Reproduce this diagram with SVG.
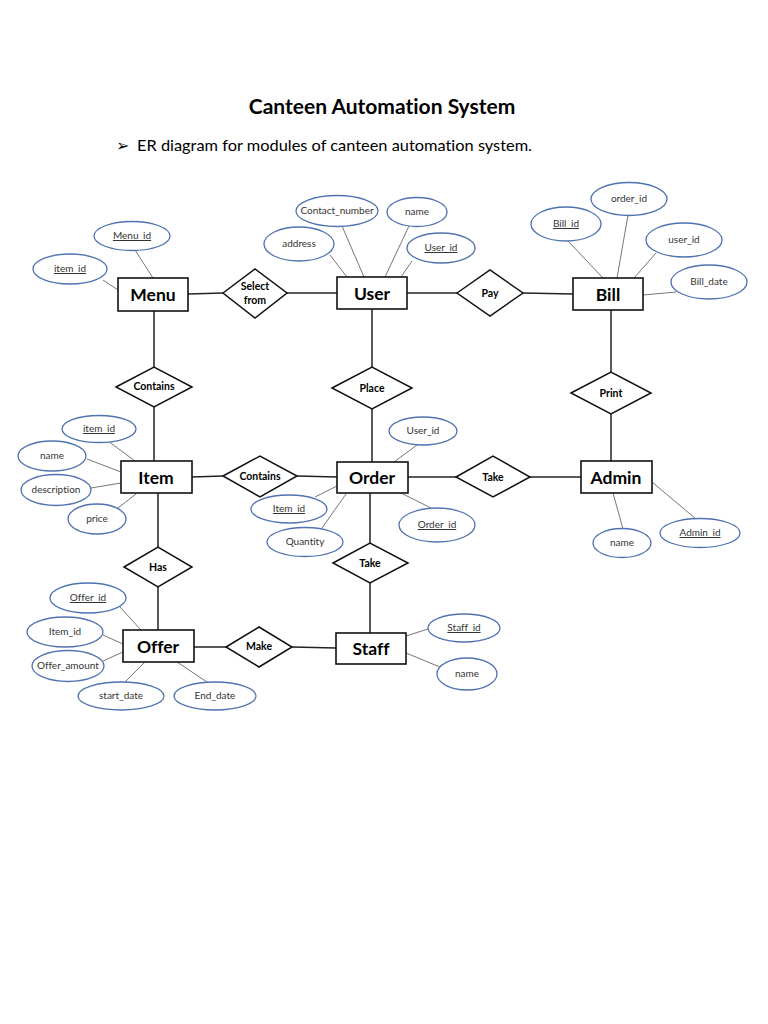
<svg xmlns="http://www.w3.org/2000/svg" width="768" height="1024" viewBox="0 0 768 1024">
<style>
text{font-variant-ligatures:none}
.ent rect{fill:#fff;stroke:#111;stroke-width:1.6}
.ent text{font-family:Lato,"Open Sans",sans-serif;font-weight:bold;font-size:17.5px;fill:#000;text-anchor:middle}
.rel polygon{fill:#fff;stroke:#111;stroke-width:1.5}
.rel text{font-family:Lato,"Open Sans",sans-serif;font-weight:bold;font-size:10.5px;fill:#000;text-anchor:middle}
.att ellipse{fill:#fff;stroke:#4f72b0;stroke-width:1.3}
.att text{font-family:Lato,"Open Sans",sans-serif;font-size:10px;fill:#333;text-anchor:middle}
.key{text-decoration:underline}
#connectors line{stroke:#222;stroke-width:1.5}
#attr-links line{stroke:#666;stroke-width:0.9}
</style>
<rect width="768" height="1024" fill="#fff"/>
<text x="382" y="114" font-family="Lato,'Open Sans',sans-serif" font-weight="bold" font-size="21" text-anchor="middle" fill="#000">Canteen Automation System</text>
<text x="116" y="151" font-family="'DejaVu Sans',sans-serif" font-size="16" fill="#000">➢</text>
<text x="137" y="151" font-family="Lato,'Open Sans',sans-serif" font-size="16" textLength="395" lengthAdjust="spacingAndGlyphs" fill="#000">ER diagram for modules of canteen automation system.</text>

<g id="connectors">
<line x1="188" y1="294" x2="223" y2="293"/>
<line x1="287" y1="293" x2="337" y2="293"/>
<line x1="407" y1="293" x2="457" y2="293"/>
<line x1="523" y1="293" x2="573" y2="294"/>
<line x1="154" y1="311" x2="154" y2="367"/>
<line x1="154" y1="407" x2="154" y2="461"/>
<line x1="372" y1="309" x2="372" y2="367"/>
<line x1="372" y1="409" x2="372" y2="462"/>
<line x1="611" y1="310" x2="611" y2="372"/>
<line x1="611" y1="414" x2="611" y2="461"/>
<line x1="192" y1="477" x2="223" y2="476"/>
<line x1="297" y1="476" x2="337" y2="477"/>
<line x1="408" y1="477" x2="456" y2="477"/>
<line x1="530" y1="477" x2="581" y2="477"/>
<line x1="158" y1="493" x2="158" y2="547"/>
<line x1="158" y1="587" x2="158" y2="630"/>
<line x1="370" y1="493" x2="370" y2="543"/>
<line x1="370" y1="583" x2="370" y2="633"/>
<line x1="194" y1="647" x2="226" y2="647"/>
<line x1="292" y1="647" x2="336" y2="648"/>
</g>

<g id="attr-links">
<line x1="135" y1="250" x2="153" y2="278"/>
<line x1="103" y1="280" x2="118" y2="290"/>
<line x1="330" y1="255" x2="347" y2="277"/>
<line x1="342" y1="226" x2="364" y2="277"/>
<line x1="409" y1="226" x2="385" y2="277"/>
<line x1="412" y1="261" x2="401" y2="277"/>
<line x1="568" y1="241" x2="603" y2="278"/>
<line x1="628" y1="215" x2="617" y2="278"/>
<line x1="656" y1="253" x2="634" y2="278"/>
<line x1="676" y1="292" x2="643" y2="295"/>
<line x1="108" y1="441" x2="135" y2="461"/>
<line x1="87" y1="459" x2="121" y2="472"/>
<line x1="91" y1="488" x2="121" y2="483"/>
<line x1="118" y1="508" x2="136" y2="494"/>
<line x1="315" y1="497" x2="337" y2="486"/>
<line x1="322" y1="528" x2="346" y2="494"/>
<line x1="417" y1="445" x2="394" y2="462"/>
<line x1="431" y1="508" x2="401" y2="493"/>
<line x1="623" y1="529" x2="613" y2="493"/>
<line x1="696" y1="519" x2="652" y2="482"/>
<line x1="120" y1="607" x2="141" y2="630"/>
<line x1="103" y1="635" x2="123" y2="644"/>
<line x1="103" y1="661" x2="123" y2="652"/>
<line x1="125" y1="682" x2="145" y2="662"/>
<line x1="207" y1="682" x2="177" y2="662"/>
<line x1="428" y1="629" x2="406" y2="636"/>
<line x1="440" y1="667" x2="406" y2="653"/>
</g>

<g id="menu" class="ent"><rect x="118" y="278" width="70" height="33"/><text x="153" y="301">Menu</text></g>
<g id="user" class="ent"><rect x="337" y="277" width="70" height="32"/><text x="372" y="300">User</text></g>
<g id="bill" class="ent"><rect x="573" y="278" width="70" height="32"/><text x="608" y="301">Bill</text></g>
<g id="item" class="ent"><rect x="121" y="461" width="71" height="32"/><text x="156" y="484">Item</text></g>
<g id="order" class="ent"><rect x="337" y="462" width="71" height="31"/><text x="372" y="484">Order</text></g>
<g id="admin" class="ent"><rect x="581" y="461" width="71" height="32"/><text x="616" y="484">Admin</text></g>
<g id="offer" class="ent"><rect x="123" y="630" width="71" height="32"/><text x="158" y="653">Offer</text></g>
<g id="staff" class="ent"><rect x="336" y="633" width="70" height="31"/><text x="371" y="655">Staff</text></g>

<g id="select-from" class="rel"><polygon points="223,293 255,269 287,293 255,318"/><text x="255" y="290">Select</text><text x="255" y="304">from</text></g>
<g id="pay" class="rel"><polygon points="457,293 490,270 523,293 490,316"/><text x="490" y="297">Pay</text></g>
<g id="contains-menu-item" class="rel"><polygon points="116,387 154,367 192,387 154,407"/><text x="154" y="390">Contains</text></g>
<g id="place" class="rel"><polygon points="332,388 372,367 412,388 372,409"/><text x="372" y="392">Place</text></g>
<g id="print" class="rel"><polygon points="571,393 611,372 651,393 611,414"/><text x="611" y="397">Print</text></g>
<g id="contains-item-order" class="rel"><polygon points="223,476 260,456 297,476 260,497"/><text x="260" y="480">Contains</text></g>
<g id="take-order-admin" class="rel"><polygon points="456,477 493,456 530,477 493,497"/><text x="493" y="481">Take</text></g>
<g id="has" class="rel"><polygon points="124,567 158,547 192,567 158,587"/><text x="158" y="571">Has</text></g>
<g id="take-order-staff" class="rel"><polygon points="333,563 370,543 408,563 370,583"/><text x="370" y="567">Take</text></g>
<g id="make" class="rel"><polygon points="226,647 259,627 292,647 259,667"/><text x="259" y="650">Make</text></g>

<g id="menu-menu_id" class="att"><ellipse cx="132" cy="236" rx="38" ry="14.5"/><text class="key" x="132" y="239">Menu_id</text></g>
<g id="menu-item_id" class="att"><ellipse cx="70" cy="269" rx="37" ry="15"/><text class="key" x="70" y="272">item_id</text></g>
<g id="user-contact_number" class="att"><ellipse cx="337" cy="211" rx="41" ry="15.5"/><text x="337" y="214">Contact_number</text></g>
<g id="user-address" class="att"><ellipse cx="299" cy="244" rx="35" ry="17"/><text x="299" y="247">address</text></g>
<g id="user-name" class="att"><ellipse cx="417" cy="212" rx="30" ry="14.5"/><text x="417" y="215">name</text></g>
<g id="user-user_id" class="att"><ellipse cx="441" cy="248" rx="34" ry="15"/><text class="key" x="441" y="251">User_id</text></g>
<g id="bill-order_id" class="att"><ellipse cx="629" cy="199" rx="38" ry="16.5"/><text x="629" y="202">order_id</text></g>
<g id="bill-bill_id" class="att"><ellipse cx="566" cy="224" rx="35" ry="17"/><text class="key" x="566" y="227">Bill_id</text></g>
<g id="bill-user_id" class="att"><ellipse cx="684" cy="240" rx="38" ry="17"/><text x="684" y="243">user_id</text></g>
<g id="bill-bill_date" class="att"><ellipse cx="709" cy="282" rx="38" ry="17"/><text x="709" y="285">Bill_date</text></g>
<g id="item-item_id" class="att"><ellipse cx="99" cy="429" rx="37" ry="13.5"/><text class="key" x="99" y="432">item_id</text></g>
<g id="item-name" class="att"><ellipse cx="52" cy="456" rx="34" ry="15"/><text x="52" y="459">name</text></g>
<g id="item-description" class="att"><ellipse cx="56" cy="490" rx="35" ry="15.5"/><text x="56" y="493">description</text></g>
<g id="item-price" class="att"><ellipse cx="97" cy="519" rx="29" ry="15"/><text x="97" y="522">price</text></g>
<g id="order-item_id" class="att"><ellipse cx="289" cy="509" rx="38" ry="14"/><text class="key" x="289" y="512">Item_id</text></g>
<g id="order-quantity" class="att"><ellipse cx="305" cy="542" rx="38" ry="14.5"/><text x="305" y="545">Quantity</text></g>
<g id="order-user_id" class="att"><ellipse cx="423" cy="431" rx="34" ry="14"/><text x="423" y="434">User_id</text></g>
<g id="order-order_id" class="att"><ellipse cx="437" cy="525" rx="38" ry="17"/><text class="key" x="437" y="528">Order_id</text></g>
<g id="admin-name" class="att"><ellipse cx="622" cy="543" rx="29" ry="14.5"/><text x="622" y="546">name</text></g>
<g id="admin-admin_id" class="att"><ellipse cx="700" cy="533" rx="40" ry="14.5"/><text class="key" x="700" y="536">Admin_id</text></g>
<g id="offer-offer_id" class="att"><ellipse cx="88" cy="598" rx="38" ry="15"/><text class="key" x="88" y="601">Offer_id</text></g>
<g id="offer-item_id" class="att"><ellipse cx="65" cy="632" rx="38" ry="15"/><text x="65" y="635">Item_id</text></g>
<g id="offer-offer_amount" class="att"><ellipse cx="68" cy="666" rx="36" ry="15.5"/><text x="68" y="669">Offer_amount</text></g>
<g id="offer-start_date" class="att"><ellipse cx="121" cy="696" rx="43" ry="14"/><text x="121" y="699">start_date</text></g>
<g id="offer-end_date" class="att"><ellipse cx="215" cy="696" rx="41" ry="14"/><text x="215" y="699">End_date</text></g>
<g id="staff-staff_id" class="att"><ellipse cx="464" cy="628" rx="36" ry="14"/><text class="key" x="464" y="631">Staff_id</text></g>
<g id="staff-name" class="att"><ellipse cx="467" cy="674" rx="30" ry="16"/><text x="467" y="677">name</text></g>
</svg>
